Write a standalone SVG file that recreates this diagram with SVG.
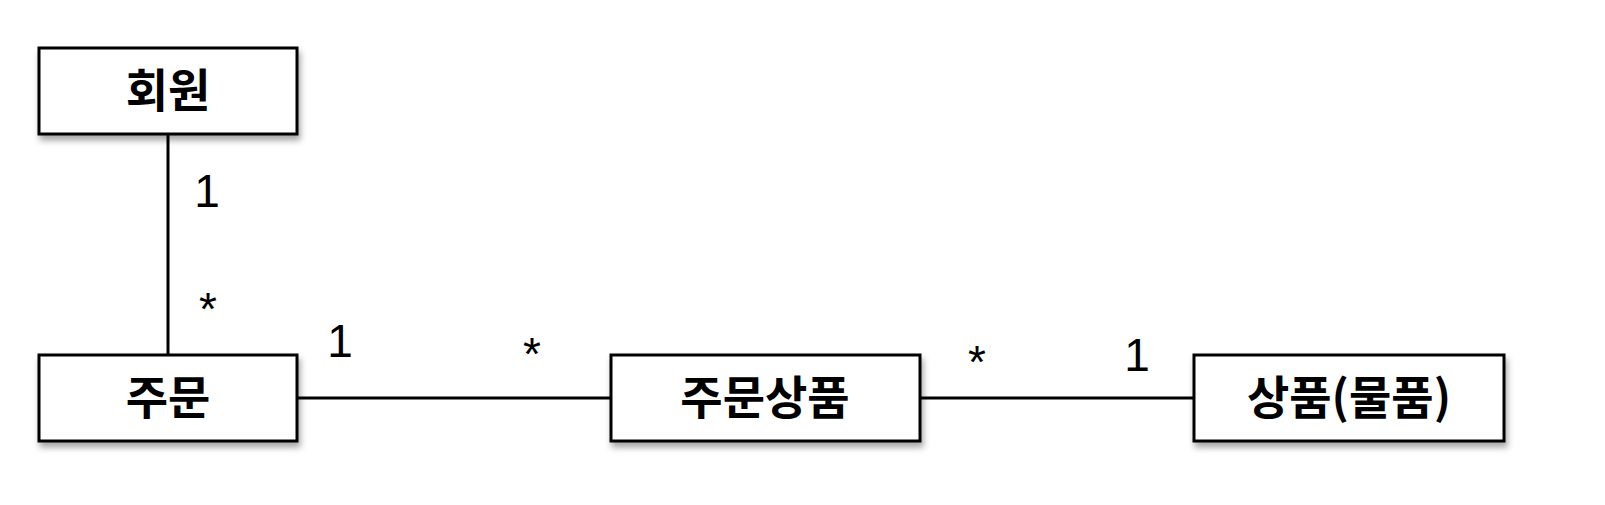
<svg xmlns="http://www.w3.org/2000/svg" width="1605" height="505" viewBox="0 0 1605 505">
<style>
.box{fill:#fff;stroke:#000;stroke-width:3}
.t{font-family:"Noto Sans CJK KR","Liberation Sans",sans-serif;font-weight:bold;font-size:46px;text-anchor:middle}
.m{font-family:"Liberation Sans",sans-serif;font-size:46px;text-anchor:middle}
.c{stroke:#000;stroke-width:3;fill:none}
</style>
<defs><filter id="sh" x="-10%" y="-10%" width="120%" height="140%"><feDropShadow dx="2" dy="5" stdDeviation="3" flood-color="#000" flood-opacity="0.35"/></filter></defs>
<rect width="1605" height="505" fill="#fff"/>
<g id="connectors">
<line class="c" x1="168" y1="134" x2="168" y2="355"/>
<line class="c" x1="297" y1="398" x2="611" y2="398"/>
<line class="c" x1="920" y1="398" x2="1194" y2="398"/>
</g>
<g id="n1"><rect class="box" filter="url(#sh)" x="39" y="48" width="258" height="86"/><text class="t" x="168" y="107">회원</text></g>
<g id="n2"><rect class="box" filter="url(#sh)" x="39" y="355" width="258" height="86"/><text class="t" x="168" y="414">주문</text></g>
<g id="n3"><rect class="box" filter="url(#sh)" x="611" y="355" width="309" height="86"/><text class="t" x="765" y="414">주문상품</text></g>
<g id="n4"><rect class="box" filter="url(#sh)" x="1194" y="355" width="310" height="86"/><text class="t" x="1349" y="414">상품(물품)</text></g>
<g id="labels">
<text class="m" x="207" y="207">1</text>
<text class="m" x="208" y="325">*</text>
<text class="m" x="340" y="357">1</text>
<text class="m" x="532" y="370">*</text>
<text class="m" x="977" y="378">*</text>
<text class="m" x="1137" y="371">1</text>
</g>
</svg>
